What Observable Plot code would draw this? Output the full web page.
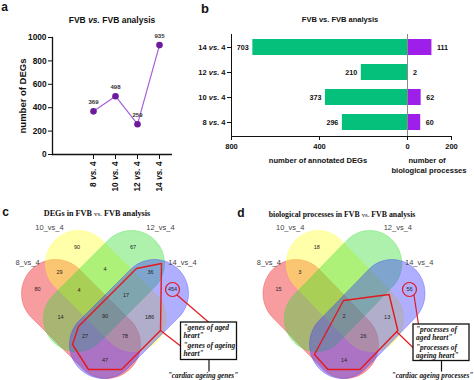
<!DOCTYPE html>
<html><head><meta charset="utf-8">
<script src="https://cdn.jsdelivr.net/npm/d3@7"></script>
<script src="https://cdn.jsdelivr.net/npm/@observablehq/plot@0.6"></script>
<style>
body{margin:0;background:#fff;}
#root{position:relative;width:474px;height:380px;overflow:hidden;background:#fff;font-family:"Liberation Sans",Arial,sans-serif;color:#111;}
.t{position:absolute;white-space:nowrap;line-height:1;}
</style></head><body><div id="root"></div>
<script>
// ---------------- data ----------------
const lineCats = ["8 vs. 4", "10 vs. 4", "12 vs. 4", "14 vs. 4"];
const degCounts = [369, 498, 259, 935];
const lineTicks = [0, 200, 400, 600, 800, 1000];

const barCats = ["8 vs. 4", "10 vs. 4", "12 vs. 4", "14 vs. 4"];
const annotatedDEGs = [296, 373, 210, 703];
const bioProcesses = [60, 62, 2, 111];
const barTicks = [-800, -400, 0, 200];

const vennSets = ["8_vs_4", "10_vs_4", "12_vs_4", "14_vs_4"];
const vennRegions = ["8", "10", "12", "14", "8&10", "8&12", "8&14", "10&12", "10&14", "12&14",
  "8&10&12", "8&10&14", "8&12&14", "10&12&14", "8&10&12&14"];
const vennDEGs = [80, 90, 67, 454, 29, 14, 47, 4, 186, 36, 4, 78, 27, 17, 90];
const vennProcesses = [15, 18, 0, 56, 3, 0, 14, 0, 13, 0, 0, 26, 0, 0, 2];

// ---------------- helpers ----------------
const FONT = "'Liberation Sans', Arial, sans-serif";
const SERIF = "'Liberation Serif', 'Times New Roman', serif";
const root = document.getElementById("root");
function put(node, x, y) {
  const w = document.createElement("div");
  w.style.position = "absolute"; w.style.left = x + "px"; w.style.top = y + "px";
  w.appendChild(node); root.appendChild(w);
}
function label(html, x, y, css, anchor = "middle", rot = 0) {
  const d = document.createElement("div");
  d.className = "t"; d.innerHTML = html;
  d.style.left = x + "px"; d.style.top = y + "px";
  Object.assign(d.style, css);
  const tx = anchor === "middle" ? "-50%" : anchor === "end" ? "-100%" : "0";
  d.style.transform = `translate(${tx},-50%)`;
  if (rot) { d.style.transformOrigin = "0 0"; d.style.transform = `rotate(${rot}deg) translate(-50%,-50%)`; }
  root.appendChild(d);
}
function italicVs(svg) {
  const NS = "http://www.w3.org/2000/svg";
  svg.querySelectorAll("text, tspan").forEach(t => {
    if (t.children.length) return;
    const s = t.textContent; const i = s.indexOf(" vs. ");
    if (i < 0) return;
    t.textContent = "";
    const a = document.createElementNS(NS, "tspan"); a.textContent = s.slice(0, i + 1);
    const b = document.createElementNS(NS, "tspan"); b.textContent = "vs."; b.setAttribute("font-style", "italic");
    const c = document.createElementNS(NS, "tspan"); c.textContent = s.slice(i + 4);
    t.append(a, b, c);
  });
}

// ---------------- panel a ----------------
const dA = lineCats.map((c, i) => ({cat: c, v: degCounts[i]}));
const pA = Plot.plot({
  width: 200, height: 200, marginLeft: 52, marginRight: 28, marginTop: 37, marginBottom: 46,
  style: {fontFamily: FONT, fontWeight: "bold", fontSize: "8.3px", color: "#111", background: "none", overflow: "visible"},
  x: {type: "point", domain: lineCats, range: [82, 170], label: null, tickRotate: -90, tickSize: 5, tickPadding: 2},
  y: {domain: [0, 1000], ticks: lineTicks, tickFormat: d => String(d), label: null, tickSize: 4, tickPadding: 2},
  marks: [
    Plot.ruleY([0], {stroke: "#111", strokeWidth: 1.3}),
    Plot.frame({anchor: "left", stroke: "#111", strokeWidth: 1.3}),
    Plot.line(dA, {x: "cat", y: "v", stroke: "#a65fd8", strokeWidth: 1.2}),
    Plot.dot(dA, {x: "cat", y: "v", r: 3.3, fill: "#6d1a9c", stroke: "none"}),
    Plot.text(dA, {x: "cat", y: "v", text: d => String(d.v), dy: -9, fontSize: 6, fill: "#333"})
  ]
});
italicVs(pA);
put(pA, 0, 0);
label("a", 4.5, 7, {fontSize: "12px", fontWeight: "bold"});
label("FVB <i>vs.</i> FVB analysis", 112, 20, {fontSize: "8.5px", fontWeight: "bold"});
label("number of DEGs", 22.5, 96, {fontSize: "9.5px", fontWeight: "bold"}, "middle", -90);

// ---------------- panel b ----------------
const dDeg = barCats.map((c, i) => ({cat: c, v: annotatedDEGs[i]}));
const dBp = barCats.map((c, i) => ({cat: c, v: bioProcesses[i]}));
const pB = Plot.plot({
  width: 274, height: 180, marginLeft: 31, marginRight: 23, marginTop: 34, marginBottom: 44,
  style: {fontFamily: FONT, fontWeight: "bold", fontSize: "7.5px", color: "#111", background: "none", overflow: "visible"},
  x: {domain: [-800, 200], ticks: barTicks, tickFormat: d => String(Math.abs(d)), label: null, tickSize: 4, tickPadding: 3},
  y: {type: "band", domain: barCats.slice().reverse(), paddingInner: 0.34, paddingOuter: 0.17, label: null, tickSize: 4, tickPadding: 2},
  marks: [
    Plot.barX(dDeg, {x1: d => 0, x2: d => -d.v, y: "cat", fill: "#05c07b"}),
    Plot.barX(dBp, {x1: d => 0, x2: d => d.v, y: "cat", fill: "#9e1fea"}),
    Plot.ruleX([0], {stroke: "#8a8a8a", strokeWidth: 1}),
    Plot.frame({anchor: "left", stroke: "#111", strokeWidth: 1}),
    Plot.frame({anchor: "bottom", stroke: "#111", strokeWidth: 1}),
    Plot.text(dDeg, {x: d => -d.v, y: "cat", text: d => String(d.v), dx: -4, textAnchor: "end", fontSize: 7.2}),
    Plot.text(dBp, {x: d => d.v, y: "cat", text: d => String(d.v), dx: 5, textAnchor: "start", fontSize: 7.2})
  ]
});
italicVs(pB);
put(pB, 200, 0);
label("b", 205, 8, {fontSize: "13px", fontWeight: "bold"});
label("FVB vs. FVB analysis", 340, 20, {fontSize: "7.5px", fontWeight: "bold"});
label("number of annotated DEGs", 318, 161, {fontSize: "7.6px", fontWeight: "bold"});
label("number of", 427, 161, {fontSize: "7.6px", fontWeight: "bold"});
label("biological processes", 429, 170.5, {fontSize: "7.6px", fontWeight: "bold"});

// ---------------- Venn geometry (stadium shapes, base frame of panel c) ----------------
const SHAPES = [
  {p1: [55, 293], p2: [106, 344], r: 34, color: "#f0262a", op: 0.45, lab: [-28, -31]},
  {p1: [78, 263], p2: [133, 318], r: 33, color: "#ffff33", op: 0.42, lab: [-29, -36]},
  {p1: [131, 263], p2: [76, 318], r: 33, color: "#33dd33", op: 0.40, lab: [29, -36]},
  {p1: [154, 293], p2: [103, 344], r: 34, color: "#3a34ff", op: 0.40, lab: [28, -31]}
];
function stadium(p1, p2, r, n = 48) {
  const th = Math.atan2(p2[1] - p1[1], p2[0] - p1[0]);
  const pts = [];
  for (let i = 0; i <= n; i++) { const a = th - Math.PI / 2 + Math.PI * i / n; pts.push([p2[0] + r * Math.cos(a), p2[1] + r * Math.sin(a)]); }
  for (let i = 0; i <= n; i++) { const a = th + Math.PI / 2 + Math.PI * i / n; pts.push([p1[0] + r * Math.cos(a), p1[1] + r * Math.sin(a)]); }
  return pts;
}
function segDist(px, py, a, b) {
  const vx = b[0] - a[0], vy = b[1] - a[1];
  let t = ((px - a[0]) * vx + (py - a[1]) * vy) / (vx * vx + vy * vy);
  t = Math.max(0, Math.min(1, t));
  return Math.hypot(px - (a[0] + t * vx), py - (a[1] + t * vy));
}
// Visvalingam simplification of a closed polygon down to k vertices
function simplify(poly, k) {
  const p = poly.slice();
  const area = (a, b, c) => Math.abs((b[0] - a[0]) * (c[1] - a[1]) - (c[0] - a[0]) * (b[1] - a[1])) / 2;
  while (p.length > k) {
    let mi = 0, ma = Infinity;
    for (let i = 0; i < p.length; i++) {
      const A = area(p[(i - 1 + p.length) % p.length], p[i], p[(i + 1) % p.length]);
      if (A < ma) { ma = A; mi = i; }
    }
    p.splice(mi, 1);
  }
  return p;
}
const maskOf = reg => reg.split("&").reduce((m, s) => m | (1 << vennSets.indexOf(s + "_vs_4")), 0);
const best = new Map(), samples = [];
for (let x = 5; x <= 205; x += 0.5) for (let y = 220; y <= 382; y += 0.5) {
  let mask = 0, clr = Infinity;
  SHAPES.forEach((s, i) => { const d = s.r - segDist(x, y, s.p1, s.p2); if (d > 0) mask |= 1 << i; clr = Math.min(clr, Math.abs(d)); });
  if (!mask) continue;
  const b = best.get(mask);
  if (!b || clr > b.c) best.set(mask, {x, y, c: clr});
  if (x % 1 === 0 && y % 1 === 0) samples.push({x, y, mask, c: clr});
}

function vennPanel({ox, cx, sx, counts, box, pinDx, caption, capDx, hullK}) {
  const T = ([x, y]) => [cx + (x - 104.5) * sx, y];
  const shapeMarks = SHAPES.map(s => {
    const pts = stadium(s.p1, s.p2, s.r).map(p => { const q = T(p); return {x: q[0], y: q[1]}; });
    return Plot.line(pts, {x: "x", y: "y", curve: "linear-closed", fill: s.color, fillOpacity: s.op,
      stroke: s.color, strokeOpacity: 0.55, strokeWidth: 0.6});
  });
  const countByMask = new Map(vennRegions.map((r, i) => [maskOf(r), counts[i]]));
  const regionData = vennRegions.map((r, i) => {
    const b = best.get(maskOf(r)); const q = T([b.x, b.y]);
    return {x: q[0], y: q[1], n: counts[i]};
  }).filter(d => d.n > 0);
  const setData = SHAPES.map((s, i) => { const q = T([s.p1[0] + s.lab[0], s.p1[1] + s.lab[1]]); return {x: q[0], y: q[1], t: vennSets[i]}; });
  // highlighted group: populated regions of 14_vs_4 shared with another set
  const only14 = 1 << 3;
  const hp = samples.filter(p => (p.mask & only14) && p.mask !== only14 && countByMask.get(p.mask) > 0 && p.c >= 3)
    .map(p => T([p.x, p.y]));
  const hull = simplify(d3.polygonHull(hp), hullK).map(([x, y]) => ({x, y}));
  const b14 = best.get(only14); const l14 = T([b14.x, b14.y]);
  const target = [box.x1 + 1.5, box.y1 + 25];
  let near = null, nd = Infinity;
  for (let i = 0; i < hull.length; i++) {
    const a = hull[i], b = hull[(i + 1) % hull.length];
    const vx = b.x - a.x, vy = b.y - a.y;
    let t = ((target[0] - a.x) * vx + (target[1] - a.y) * vy) / (vx * vx + vy * vy);
    t = Math.max(0, Math.min(1, t));
    const px = a.x + t * vx, py = a.y + t * vy, d = Math.hypot(px - target[0], py - target[1]);
    if (d < nd) { nd = d; near = [px, py]; }
  }
  const links = [
    {x1: l14[0] + 4.5, y1: l14[1] + 5.5, x2: box.x1 + pinDx, y2: box.y1},
    {x1: near[0], y1: near[1], x2: target[0], y2: target[1]}
  ];
  const mid = (box.x1 + box.x2) / 2;
  const boxText = box.lines.map((t, i) => ({x: box.x1 + 2.5, y: box.y1 + [4.8, 12.8, 23.2, 31.4][i], t}));
  return Plot.plot({
    width: 237, height: 200, margin: 0,
    style: {fontFamily: FONT, background: "none", overflow: "visible"},
    x: {domain: [ox, ox + 237], range: [0, 237], axis: null},
    y: {domain: [180, 380], range: [0, 200], axis: null},
    marks: [
      ...shapeMarks,
      Plot.text(regionData, {x: "x", y: "y", text: d => String(d.n), fontSize: 5.5, fill: "#222"}),
      Plot.text(setData, {x: "x", y: "y", text: "t", fontSize: 7.5, fill: "#444"}),
      Plot.line(hull, {x: "x", y: "y", curve: "linear-closed", stroke: "#e3191f", strokeWidth: 1.4, fill: "none"}),
      Plot.dot([{x: l14[0], y: l14[1]}], {x: "x", y: "y", r: 7, stroke: "#e3191f", strokeWidth: 1.2, fill: "none"}),
      Plot.link(links, {x1: "x1", y1: "y1", x2: "x2", y2: "y2", stroke: "#e3191f", strokeWidth: 1.2}),
      Plot.rect([box], {x1: "x1", x2: "x2", y1: "y1", y2: "y2", fill: "white", stroke: "#111", strokeWidth: 1.3}),
      Plot.text(boxText, {x: "x", y: "y", text: "t", textAnchor: "start", fontFamily: SERIF, fontStyle: "italic", fontWeight: "bold", fontSize: 7.4, fill: "#111"}),
      Plot.link([{x1: mid, y1: box.y2, x2: mid, y2: 371}], {x1: "x1", y1: "y1", x2: "x2", y2: "y2", stroke: "#111", strokeWidth: 1.2}),
      Plot.text([{x: mid + capDx, y: 375.5, t: caption}], {x: "x", y: "y", text: "t", fontFamily: SERIF, fontStyle: "italic", fontWeight: "bold", fontSize: 7.2, fill: "#111"})
    ]
  });
}

// ---------------- panel c ----------------
const pC = vennPanel({
  ox: 0, cx: 104.5, sx: 1, counts: vennDEGs, hullK: 7,
  box: {x1: 180.5, x2: 236.5, y1: 322, y2: 359.5, lines: ["\"genes of aged", "heart\"", "\"genes of ageing", "heart\""]},
  pinDx: 28, caption: "\"cardiac ageing genes\"", capDx: -6
});
put(pC, 0, 180);
label("c", 5.5, 212, {fontSize: "12px", fontWeight: "bold"});
label("DEGs in FVB <span style='font-weight:normal;font-size:7px'>vs.</span> FVB analysis", 97, 214,
  {fontFamily: SERIF, fontSize: "8.2px", fontWeight: "bold"});

// ---------------- panel d ----------------
const pD = vennPanel({
  ox: 237, cx: 343.5, sx: 0.97, counts: vennProcesses, hullK: 6,
  box: {x1: 413, x2: 469, y1: 324, y2: 360.5, lines: ["\"processes of", "aged heart\"", "\"processes of", "ageing heart\""]},
  pinDx: 5, caption: "\"cardiac ageing processes\"", capDx: -9
});
put(pD, 237, 180);
label("d", 241, 213, {fontSize: "12px", fontWeight: "bold"});
label("biological processes in FVB <span style='font-weight:normal;font-size:6.8px'>vs.</span> FVB analysis", 342, 215,
  {fontFamily: SERIF, fontSize: "7.8px", fontWeight: "bold"});
</script></body></html>
